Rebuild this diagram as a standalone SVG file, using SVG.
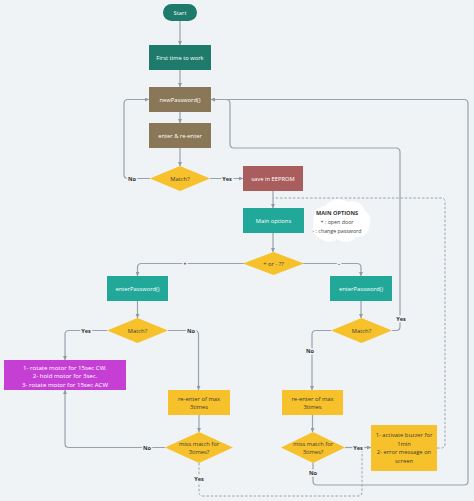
<svg xmlns="http://www.w3.org/2000/svg" width="474" height="501" viewBox="0 0 474 501">
<defs>
<marker id="arr" viewBox="0 0 6 6" refX="6" refY="3" markerWidth="4" markerHeight="4" markerUnits="userSpaceOnUse" orient="auto">
<path d="M0,0 L6,3 L0,6 z" fill="#8f9aa5"/>
</marker>
<style>
.c{fill:none;stroke:#98a2ad;stroke-width:1.2}
.d{fill:none;stroke:#98a2ad;stroke-width:1;stroke-dasharray:2.5 1.8}
.t{font-family:"Open Sans","Noto Sans",sans-serif;font-size:5.8px;text-anchor:middle;dominant-baseline:central}
.w{fill:#ffffff}
.k{fill:#3b3b3b}
.lb{font-family:"Open Sans","Noto Sans",sans-serif;font-size:5.6px;font-weight:bold;fill:#333;text-anchor:middle;dominant-baseline:central;stroke:#eff3f6;stroke-width:3;paint-order:stroke}
.teal1{fill:#1e7b6b}
.brown{fill:#8a7757}
.red{fill:#aa5d5d}
.teal2{fill:#21a898}
.yel{fill:#f6c12b}
.pur{fill:#c53fd5}
</style>
</defs>
<rect x="0" y="0" width="474" height="501" fill="#eff3f6"/>

<g id="connectors">
<path class="c" d="M180,21 V45" marker-end="url(#arr)"/>
<path class="c" d="M180,70 V87" marker-end="url(#arr)"/>
<path class="c" d="M180,112 V123" marker-end="url(#arr)"/>
<path class="c" d="M180,148 V166" marker-end="url(#arr)"/>
<path class="c" d="M150,178.5 H128 Q124,178.5 124,174.5 V103.5 Q124,99.5 128,99.5 H149" marker-end="url(#arr)"/>
<path class="c" d="M210,178.5 H243" marker-end="url(#arr)"/>
<path class="c" d="M273,191 V208" marker-end="url(#arr)"/>
<path class="c" d="M273,233 V252" marker-end="url(#arr)"/>
<path class="c" d="M244,263.5 H141.5 Q137.5,263.5 137.5,267.5 V276" marker-end="url(#arr)"/>
<path class="c" d="M303,263.5 H357 Q361,263.5 361,267.5 V276" marker-end="url(#arr)"/>
<path class="c" d="M137.5,301 V318" marker-end="url(#arr)"/>
<path class="c" d="M361,301 V318" marker-end="url(#arr)"/>
<path class="c" d="M107,330.5 H69 Q65,330.5 65,334.5 V360" marker-end="url(#arr)"/>
<path class="c" d="M168,330.5 H194.5 Q198.5,330.5 198.5,334.5 V390" marker-end="url(#arr)"/>
<path class="c" d="M199,415 V432" marker-end="url(#arr)"/>
<path class="c" d="M165,447.5 H69 Q65,447.5 65,443.5 V390" marker-end="url(#arr)"/>
<path class="d" d="M199,463 V492 Q199,496 203,496 H358 Q362,496 362,492 V447.5"/>
<path class="c" d="M331,330.5 H316 Q312,330.5 312,334.5 V390" marker-end="url(#arr)"/>
<path class="c" d="M312.5,415 V432" marker-end="url(#arr)"/>
<path class="c" d="M345,447.5 H371" marker-end="url(#arr)"/>
<path class="c" d="M313,463 V481 Q313,485 317,485 H464 Q468,485 468,481 V103.5 Q468,99.5 464,99.5 H211" marker-end="url(#arr)"/>
<path class="c" d="M392,330.5 H396 Q400,330.5 400,326.5 V152 Q400,148 396,148 H234 Q230,148 230,144 V103.5 Q230,99.5 226,99.5 H211" marker-end="url(#arr)"/>
<path class="d" d="M437,448 H441 Q445,448 445,444 V202 Q445,198 441,198 H273"/>
<text class="lb" x="132" y="178.5">No</text>
<text class="lb" x="227" y="178.5">Yes</text>
<text class="lb" x="185" y="263.5" style="font-size:5px">+</text>
<text class="lb" x="339" y="263.5" style="font-size:5px">-</text>
<text class="lb" x="86" y="330.5">Yes</text>
<text class="lb" x="191" y="330.5">No</text>
<text class="lb" x="147" y="447.5">No</text>
<text class="lb" x="199" y="479">Yes</text>
<text class="lb" x="310" y="351">No</text>
<text class="lb" x="401" y="319">Yes</text>
<text class="lb" x="358" y="447.5">Yes</text>
<text class="lb" x="313" y="473">No</text>
</g>

<g id="start">
<rect class="teal1" x="163" y="4" width="34" height="17" rx="8.5"/>
<text class="t w" x="180" y="12.5">Start</text>
</g>
<g id="first">
<rect class="teal1" x="149" y="45" width="62" height="25"/>
<text class="t w" x="180" y="57.5">First time to work</text>
</g>
<g id="newPassword">
<rect class="brown" x="149" y="87" width="62" height="25"/>
<text class="t w" x="180" y="99.5">newPassword()</text>
</g>
<g id="enter">
<rect class="brown" x="149" y="123" width="62" height="25"/>
<text class="t w" x="180" y="135.5">enter &amp; re-enter</text>
</g>
<g id="match1">
<polygon class="yel" points="180,166 210,178.5 180,191 150,178.5"/>
<text class="t k" x="180" y="178.5">Match?</text>
</g>
<g id="save">
<rect class="red" x="243" y="166" width="60" height="25"/>
<text class="t w" x="273" y="178.5">save in EEPROM</text>
</g>
<g id="mainOptions">
<rect class="teal2" x="243" y="208" width="61" height="25"/>
<text class="t w" x="273.5" y="220.5">Main options</text>
</g>
<g id="cloud">
<path fill="#ffffff" d="M320,238 A11,11 0 0 1 314,223 A13,13 0 0 1 325,206 A17,17 0 0 1 348,202 A13,13 0 0 1 365,211 A11,11 0 0 1 369,226 A11,11 0 0 1 357,237 A15,15 0 0 1 337,239 A13,13 0 0 1 320,238 Z"/>
<text class="t" x="337" y="213" style="font-weight:bold;fill:#333;font-size:5.6px">MAIN OPTIONS</text>
<text class="t" x="337" y="222" style="fill:#444;font-size:5.3px">+ : open door</text>
<text class="t" x="337" y="230.5" style="fill:#444;font-size:5.3px">- : change password</text>
</g>
<g id="plusMinus">
<polygon class="yel" points="273.5,252 304,263.5 273.5,275 243,263.5"/>
<text class="t k" x="273.5" y="263.5">+ or - ??</text>
</g>
<g id="enterPasswordL">
<rect class="teal2" x="107" y="276" width="61" height="25"/>
<text class="t w" x="137.5" y="288.5">enterPassword()</text>
</g>
<g id="enterPasswordR">
<rect class="teal2" x="330" y="276" width="62" height="25"/>
<text class="t w" x="361" y="288.5">enterPassword()</text>
</g>
<g id="matchL">
<polygon class="yel" points="137.5,318 168,330.5 137.5,343 107,330.5"/>
<text class="t k" x="137.5" y="330.5">Match?</text>
</g>
<g id="matchR">
<polygon class="yel" points="361.5,318 392,330.5 361.5,343 331,330.5"/>
<text class="t k" x="361.5" y="330.5">Match?</text>
</g>
<g id="motor">
<rect class="pur" x="4" y="360" width="122" height="30"/>
<text class="t w" x="65" y="367" style="font-size:6.1px">1- rotate motor for 15sec CW.</text>
<text class="t w" x="65" y="375.5" style="font-size:6.1px">2- hold motor for 3sec.</text>
<text class="t w" x="65" y="384" style="font-size:6.1px">3- rotate motor for 15sec ACW</text>
</g>
<g id="reenterL">
<rect class="yel" x="168" y="390" width="62" height="25"/>
<text class="t k" x="199" y="398.5">re-enter of max</text>
<text class="t k" x="199" y="406.5">3times</text>
</g>
<g id="reenterR">
<rect class="yel" x="282" y="390" width="61" height="25"/>
<text class="t k" x="312.5" y="398.5">re-enter of max</text>
<text class="t k" x="312.5" y="406.5">3times</text>
</g>
<g id="missL">
<polygon class="yel" points="199,432 233,447.5 199,463 165,447.5"/>
<text class="t k" x="199" y="443.5">miss match for</text>
<text class="t k" x="199" y="451.5">3times?</text>
</g>
<g id="missR">
<polygon class="yel" points="313,432 345,447.5 313,463 281,447.5"/>
<text class="t k" x="313" y="443.5">miss match for</text>
<text class="t k" x="313" y="451.5">3times?</text>
</g>
<g id="buzzer">
<rect class="yel" x="371" y="425" width="66" height="46"/>
<text class="t k" x="404" y="435">1- activate buzzer for</text>
<text class="t k" x="404" y="443.5">1min</text>
<text class="t k" x="404" y="452">2- error message on</text>
<text class="t k" x="404" y="460.5">screen</text>
</g>
</svg>
